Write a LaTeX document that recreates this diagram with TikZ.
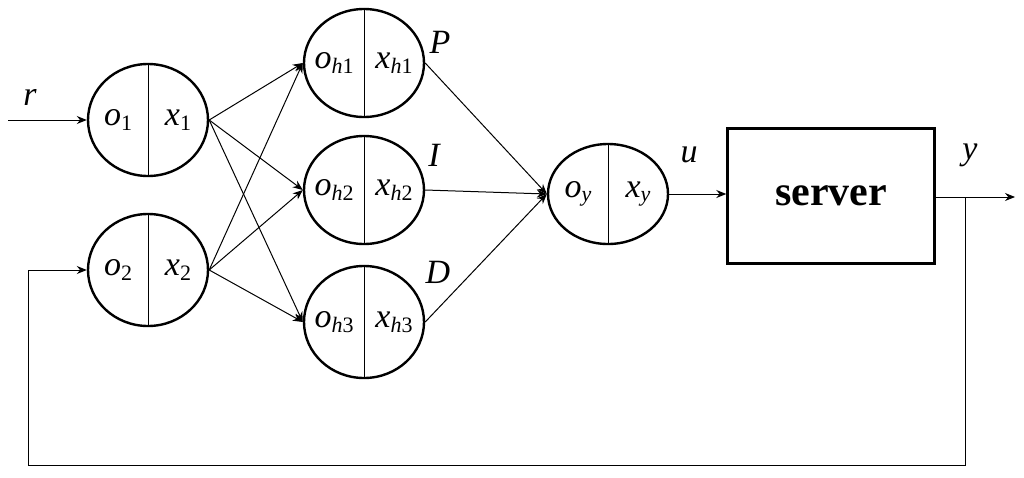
\documentclass[tikz,border=0pt]{standalone}
\usepackage{fontspec}
\setmainfont{Liberation Serif}
\usetikzlibrary{shapes.geometric,arrows.meta}
\tikzstyle{neuron} = [draw=black, line width=2.4pt, ellipse, minimum width=120pt, minimum height=112pt, inner sep=0pt]
\tikzstyle{lbl} = [font=\fontsize{34}{34}\selectfont\itshape]
\tikzstyle{conn} = [-{Stealth[length=10pt,width=8pt]}, line width=1pt]
\newcommand{\nsub}[2]{#1\raisebox{-0.3ex}{\fontsize{22}{22}\selectfont #2}}

\begin{document}
\begin{tikzpicture}[x=1pt,y=-1pt]
                \useasboundingbox (0,0) rectangle (1024,477);
                % neurons
                \foreach \name/\cx/\cy/\ry/\lo/\lx in {in1/148/120/112/{\nsub{o}{\upshape 1}}/{\nsub{x}{\upshape 1}},
                    in2/148/270/112/{\nsub{o}{\upshape 2}}/{\nsub{x}{\upshape 2}},
                    h1/364/63/108/{\nsub{o}{h\upshape 1}}/{\nsub{x}{h\upshape 1}},
                    h2/364/190/108/{\nsub{o}{h\upshape 2}}/{\nsub{x}{h\upshape 2}},
                    h3/364/322/112/{\nsub{o}{h\upshape 3}}/{\nsub{x}{h\upshape 3}},
                    out/608/194/100/{\nsub{o}{y}}/{\nsub{x}{y}}}{
                    \node [neuron, minimum height=\ry pt] (\name) at (\cx,\cy) {};
                    \draw [line width=1pt] (\name.north) -- (\name.south);
                    \node [lbl] at ([xshift=-30pt]\name.center) {\lo};
                    \node [lbl] at ([xshift=30pt]\name.center) {\lx};
                }
                \node [draw=black, line width=2.4pt, minimum width=207pt, minimum height=135pt,
                    font=\fontsize{42}{42}\selectfont\bfseries] (srv) at (831,196) {server};
                \coordinate (rin) at (8,120);
                \coordinate (yout) at (1015,197);
                \coordinate (tap) at (965,197);
                \coordinate (fb1) at (965,465);
                \coordinate (fb2) at (28,465);
                \coordinate (fb3) at (28,270);
                % connectors
                \draw [conn] (rin) -- (in1.west);
                \foreach \a in {in1,in2}
                    \foreach \b in {h1,h2,h3}
                        \draw [conn] (\a.east) -- (\b.west);
                \foreach \b in {h1,h2,h3}
                    \draw [conn] (\b.east) -- (out.west);
                \draw [conn] (out.east) -- (out.east -| srv.west);
                \draw [conn] (srv.east |- yout) -- (yout);
                \draw [conn] (tap) -- (fb1) -- (fb2) -- (fb3) -- (in2.west);
                % labels
                \node [lbl] (rl) at (30,97) {r};
                \node [lbl] (pl) at (440,42) {P};
                \node [lbl] (il) at (434,155) {I};
                \node [lbl] (dl) at (438,272) {D};
                \node [lbl] (ul) at (689,155) {u};
                \node [lbl] (yl) at (970,155) {y};
            \end{tikzpicture}
\end{document}
